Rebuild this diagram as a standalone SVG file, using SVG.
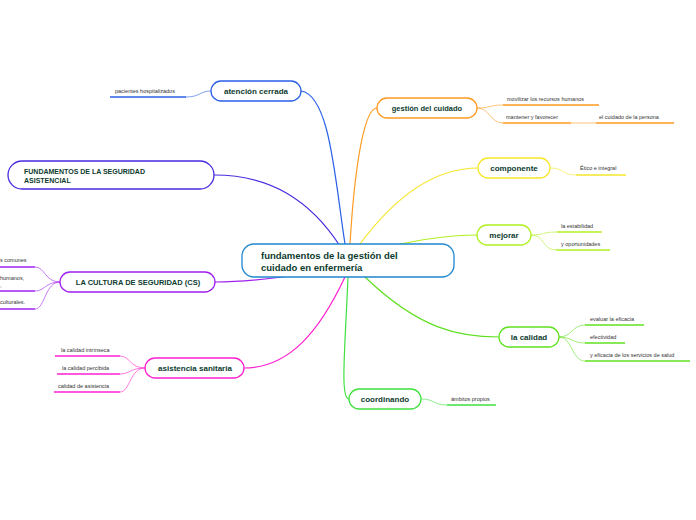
<svg xmlns="http://www.w3.org/2000/svg" width="696" height="520" viewBox="0 0 696 520">
<style>
.n{fill:#fff;stroke-width:1.3}
.t{font-family:"Liberation Sans",Arial,sans-serif;font-weight:bold;font-size:8px;fill:#0d3b2e}
.l{font-family:"Liberation Sans",Arial,sans-serif;font-size:5.5px;fill:#333}
.c{fill:none;stroke-width:1.2}
.u{stroke-width:1.5}
.s{fill:none;stroke-width:0.6}
</style>
<rect width="696" height="520" fill="#fff"/>
<g id="connectors">
<path class="c" stroke="#2a5fe6" d="M345,244 C335,180 330,95 301,91"/>
<path class="c" stroke="#4a2be0" d="M340,246 C310,200 270,175 214,175"/>
<path class="c" stroke="#a020f0" d="M290,276 C260,280 240,282 215,282"/>
<path class="c" stroke="#ff20d0" d="M345,277 C320,330 290,368 244,368"/>
<path class="c" stroke="#ff9a20" d="M350,244 C355,160 365,108 377,108"/>
<path class="c" stroke="#f5e62a" d="M360,244 C400,190 440,168 478,168"/>
<path class="c" stroke="#b0f020" d="M400,244 C430,238 455,235 477,235"/>
<path class="c" stroke="#60e020" d="M365,277 C420,330 460,337 499,337"/>
<path class="c" stroke="#40e040" d="M348,277 C345,350 340,399 349,399"/>
<path class="s" stroke="#2a5fe6" d="M211,91 C200,91 200,97 186,97"/>
<path class="s" stroke="#a020f0" d="M60,282 C45,282 45,267 35,267 M60,282 C45,282 45,291 35,291 M60,282 C45,282 45,309 35,309"/>
<path class="s" stroke="#ff20d0" d="M145,368 C130,368 130,356 120,356 M145,368 C130,368 130,374 120,374 M145,368 C130,368 130,392 120,392"/>
<path class="s" stroke="#ff9a20" d="M477,108 C490,108 490,105 503,105 M477,108 C490,108 490,123 503,123 M571,123 L596,123"/>
<path class="s" stroke="#f5e62a" d="M550,168 C565,168 562,175 576,175"/>
<path class="s" stroke="#b0f020" d="M531,235 C545,235 542,232 557,232 M531,235 C545,235 542,250 556,250"/>
<path class="s" stroke="#60e020" d="M559,337 C572,337 572,325 585,325 M559,337 C572,337 572,343 585,343 M559,337 C572,337 572,361 585,361"/>
<path class="s" stroke="#40e040" d="M421,399 C435,399 433,405 447,405"/>
</g>
<g id="center"><rect class="n" x="242" y="244" width="212" height="33" rx="12" stroke="#1e88d0"/>
<text class="t" font-size="9.5" x="261" y="259" style="font-size:9.5px">fundamentos de la gestión del</text><text class="t" x="261" y="271" style="font-size:9.5px">cuidado en enfermería</text></g>
<g id="atencion"><rect class="n" x="211" y="81" width="90" height="20" rx="10" stroke="#2a5fe6"/><text class="t" x="256" y="94" text-anchor="middle">atención cerrada</text>
<line class="u" stroke="#2a5fe6" x1="110" y1="97" x2="186" y2="97"/><text class="l" x="115" y="93">pacientes hospitalizados</text></g>
<g id="fundamentos"><rect class="n" x="8" y="161" width="206" height="28" rx="14" stroke="#4a2be0"/><text class="t" x="24" y="174" style="font-size:7px">FUNDAMENTOS DE LA SEGURIDAD</text><text class="t" x="24" y="183" style="font-size:7px">ASISTENCIAL</text></g>
<g id="cultura"><rect class="n" x="60" y="272" width="155" height="20" rx="10" stroke="#a020f0"/><text class="t" x="138" y="285" text-anchor="middle" style="font-size:7.5px">LA CULTURA DE SEGURIDAD (CS)</text>
<line class="u" stroke="#a020f0" x1="0" y1="267" x2="35" y2="267"/><text class="l" x="0" y="262">s comunes</text>
<line class="u" stroke="#a020f0" x1="0" y1="291" x2="35" y2="291"/><text class="l" x="0" y="280">humanos,</text><text class="l" x="0" y="287">,</text>
<line class="u" stroke="#a020f0" x1="0" y1="309" x2="35" y2="309"/><text class="l" x="0" y="304">culturales.</text></g>
<g id="asistencia"><rect class="n" x="145" y="358" width="99" height="20" rx="10" stroke="#ff20d0"/><text class="t" x="195" y="371" text-anchor="middle">asistencia sanitaria</text>
<line class="u" stroke="#ff20d0" x1="55" y1="356" x2="120" y2="356"/><text class="l" x="61" y="352">la calidad intrínseca</text>
<line class="u" stroke="#ff20d0" x1="57" y1="374" x2="120" y2="374"/><text class="l" x="62" y="370">la calidad percibida</text>
<line class="u" stroke="#ff20d0" x1="54" y1="392" x2="120" y2="392"/><text class="l" x="58" y="388">calidad de asistencia</text></g>
<g id="gestion"><rect class="n" x="377" y="98" width="100" height="20" rx="10" stroke="#ff9a20"/><text class="t" x="427" y="111" text-anchor="middle" style="font-size:7.5px">gestión del cuidado</text>
<line class="u" stroke="#ff9a20" x1="503" y1="105" x2="599" y2="105"/><text class="l" x="507" y="101">movilizar los recursos humanos</text>
<line class="u" stroke="#ff9a20" x1="503" y1="123" x2="571" y2="123"/><text class="l" x="506" y="119">mantener y favorecer</text>
<line class="u" stroke="#ff9a20" x1="596" y1="123" x2="674" y2="123"/><text class="l" x="599" y="119">el cuidado  de la persona</text></g>
<g id="componente"><rect class="n" x="478" y="158" width="72" height="20" rx="10" stroke="#f5e62a"/><text class="t" x="514" y="171" text-anchor="middle">componente</text>
<line class="u" stroke="#f5e62a" x1="576" y1="175" x2="626" y2="175"/><text class="l" x="580" y="170">Ético e integral</text></g>
<g id="mejorar"><rect class="n" x="477" y="225" width="54" height="20" rx="10" stroke="#b0f020"/><text class="t" x="504" y="238" text-anchor="middle">mejorar</text>
<line class="u" stroke="#b0f020" x1="557" y1="232" x2="602" y2="232"/><text class="l" x="561" y="228">la estabilidad</text>
<line class="u" stroke="#b0f020" x1="556" y1="250" x2="610" y2="250"/><text class="l" x="561" y="246">y oportunidades</text></g>
<g id="calidad"><rect class="n" x="499" y="327" width="60" height="20" rx="10" stroke="#60e020"/><text class="t" x="529" y="340" text-anchor="middle">la calidad</text>
<line class="u" stroke="#60e020" x1="585" y1="325" x2="644" y2="325"/><text class="l" x="590" y="321">evaluar la eficacia</text>
<line class="u" stroke="#60e020" x1="585" y1="343" x2="625" y2="343"/><text class="l" x="590" y="339">efectividad</text>
<line class="u" stroke="#60e020" x1="585" y1="361" x2="690" y2="361"/><text class="l" x="590" y="357">y eficacia de los servicios de salud</text></g>
<g id="coordinando"><rect class="n" x="349" y="389" width="72" height="20" rx="10" stroke="#40e040"/><text class="t" x="385" y="402" text-anchor="middle">coordinando</text>
<line class="u" stroke="#40e040" x1="447" y1="405" x2="496" y2="405"/><text class="l" x="451" y="401">ámbitos propios</text></g>
</svg>
